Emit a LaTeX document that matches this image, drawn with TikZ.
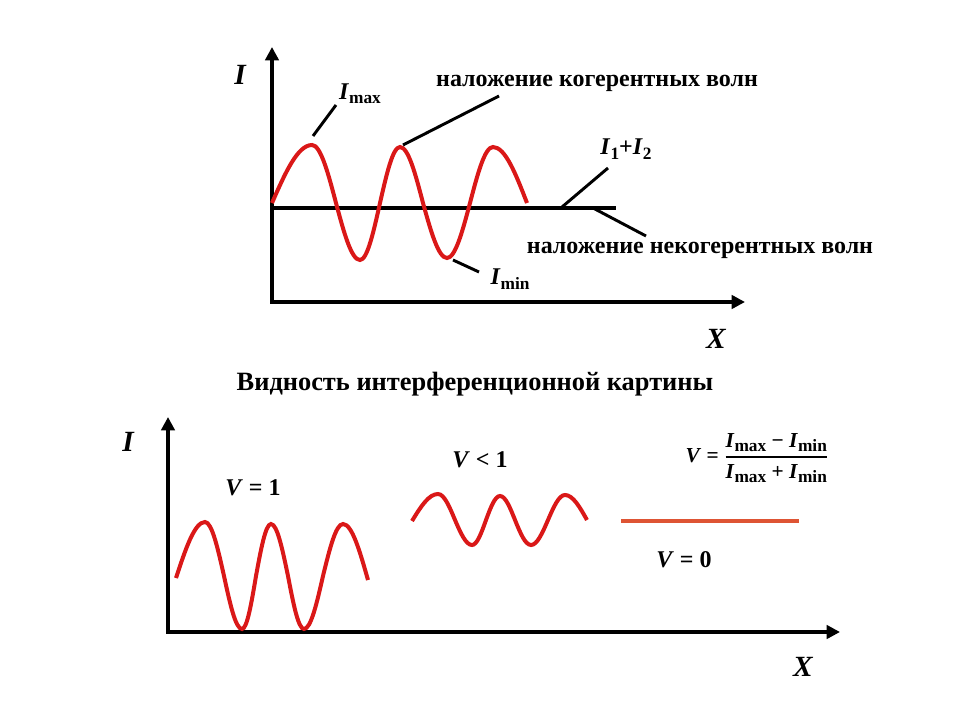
\documentclass[tikz,border=0pt]{standalone}
\usepackage{fontspec}
\setmainfont{Liberation Serif}
\usetikzlibrary{arrows.meta}
\definecolor{wavered}{RGB}{218,24,24}
\definecolor{flatred}{RGB}{222,84,52}
\newcommand\Isub[1]{\textit{I}\raisebox{-0.4ex}{\upshape\fontsize{13}{13}\selectfont #1}}

\begin{document}
\begin{tikzpicture}[x=0.75pt,y=-0.75pt,>={Triangle[length=10pt,width=10pt]},
  axis/.style={line width=3pt,<->},
  wave/.style={line width=3pt,draw=wavered},
  lead/.style={line width=2.2pt},
  lbl/.style={font=\bfseries\fontsize{18}{22}\selectfont,inner sep=0pt},
  var/.style={font=\bfseries\itshape\fontsize{22}{24}\selectfont,inner sep=0pt}]
  \useasboundingbox (0,0) rectangle (960,720);

  % upper graph
  \draw[axis] (272,47) -- (272,302) -- (745,302);
  \draw[line width=3pt] (272,208) -- (616,208);
  \draw[wave] (272,203) sin (312,145) cos (336,203) sin (360,260) cos (380,203)
    sin (400,147) cos (423,203) sin (447,258) cos (470,203) sin (493,147) cos (527,203);

  \node[var] (Itop) at (240,75) {I};
  \node[var] (Xtop) at (716,339) {X};
  \node[lbl] (imax) at (360,94) {\Isub{max}};
  \node[lbl] (imin) at (510,279) {\Isub{min}};
  \node[lbl] (isum) at (626,149) {\Isub{1}+\Isub{2}};
  \node[lbl] (coh) at (597,83) {наложение когерентных волн};
  \node[lbl] (incoh) at (700,250) {наложение некогерентных волн};

  \coordinate (pmax) at (313,136);  \coordinate (emax) at (336,105);
  \coordinate (pcoh) at (403,145);  \coordinate (ecoh) at (499,96);
  \coordinate (pmin) at (453,260);  \coordinate (emin) at (479,272);
  \coordinate (psum) at (562,207);  \coordinate (esum) at (608,168);
  \coordinate (pinc) at (593,208);  \coordinate (einc) at (646,236);
  \draw[lead] (pmax) -- (emax);
  \draw[lead] (pcoh) -- (ecoh);
  \draw[lead] (pmin) -- (emin);
  \draw[lead] (psum) -- (esum);
  \draw[lead] (pinc) -- (einc);

  \node[lbl,font=\bfseries\fontsize{19.8}{22}\selectfont] (title) at (475,384)
    {Видность интерференционной картины};

  % lower graph
  \draw[axis] (168,417) -- (168,632) -- (840,632);
  \node[var] (Ibot) at (128,442) {I};
  \node[var] (Xbot) at (803,667) {X};

  \draw[wave] (176,578) sin (205,522) cos (224,576) sin (242,629) cos (256,576)
    sin (271,524) cos (288,576) sin (304,629) cos (323,576) sin (343,524) cos (368,580);
  \draw[wave] (412,521) sin (438,494) cos (455,520) sin (472,545) cos (486,520)
    sin (500,496) cos (515,520) sin (531,545) cos (548,520) sin (565,495) cos (587,520);
  \draw[line width=3.5pt,flatred] (621,521) -- (799,521);

  \node[lbl] (v1) at (253,488) {\textit{V} = 1};
  \node[lbl] (vlt) at (480,460) {\textit{V} < 1};
  \node[lbl] (v0) at (684,560) {\textit{V} = 0};
  \node[lbl,font=\bfseries\fontsize{16}{18}\selectfont] (vis) at (757,458)
    {\textit{V} = $\displaystyle{\hbox{\Isub{max} − \Isub{min}} \above 1.2pt \hbox{\Isub{max} + \Isub{min}}}$};
\end{tikzpicture}
\end{document}
